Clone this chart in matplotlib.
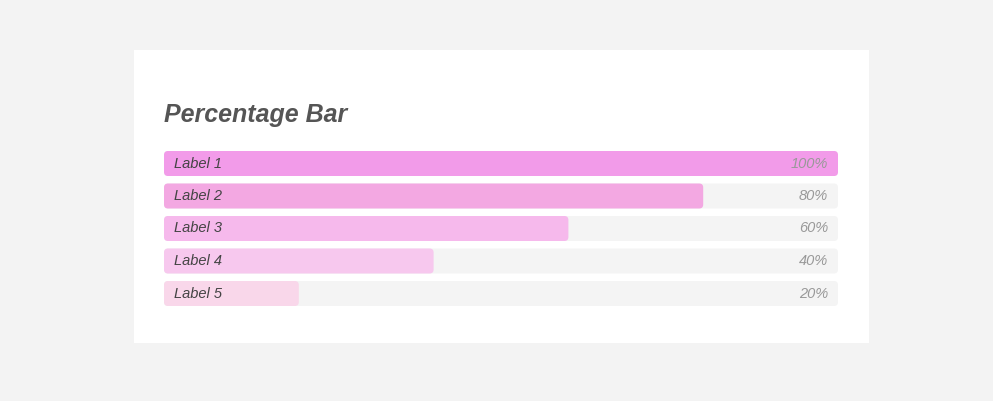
import matplotlib
matplotlib.use("Agg")
import matplotlib.pyplot as plt
from matplotlib.patches import FancyBboxPatch, Rectangle

plt.rcParams["font.family"] = ["Liberation Sans", "DejaVu Sans"]

labels = ["Label 1", "Label 2", "Label 3", "Label 4", "Label 5"]
values = [100, 80, 60, 40, 20]
colors = ["#f29be9", "#f3a8e2", "#f6b9ec", "#f7c8ee", "#f9d7ea"]

W, H = 993, 401
fig = plt.figure(figsize=(W / 100, H / 100), dpi=100)
fig.patch.set_facecolor("#f3f3f3")

# white card (behind the axes)
fig.patches.append(Rectangle((134 / W, 1 - 343 / H), (869 - 134) / W, (343 - 50) / H,
                             transform=fig.transFigure, facecolor="white", edgecolor="none",
                             zorder=-5))

fig.text(164 / W, 1 - 115 / H, "Percentage Bar", fontsize=18, fontweight="bold",
         fontstyle="italic", color="#555555", va="center", ha="left")

# axes in pixel units: x 164..838, y 151..306
ax = fig.add_axes([164 / W, 1 - 306 / H, (838 - 164) / W, (306 - 151) / H])
ax.set_zorder(2)
ax.patch.set_visible(False)
ax.set_xlim(0, 674)
ax.set_ylim(155, 0)
ax.axis("off")

pitch, bh = 32.5, 25
for i, (lab, v, c) in enumerate(zip(labels, values, colors)):
    y = i * pitch
    ax.add_patch(FancyBboxPatch((0, y), 674, bh, boxstyle="round,pad=0,rounding_size=4",
                                facecolor="#f4f4f4", edgecolor="none"))
    ax.add_patch(FancyBboxPatch((0, y), v / 100 * 674, bh, boxstyle="round,pad=0,rounding_size=4",
                                facecolor=c, edgecolor="none"))
    ax.text(10, y + bh / 2, lab, fontsize=10.5, fontstyle="italic", color="#444444",
            va="center", ha="left")
    ax.text(664, y + bh / 2, f"{v}%", fontsize=10.5, fontstyle="italic", color="#999999",
            va="center", ha="right")

fig.savefig("out.png", dpi=100, facecolor=fig.get_facecolor())
